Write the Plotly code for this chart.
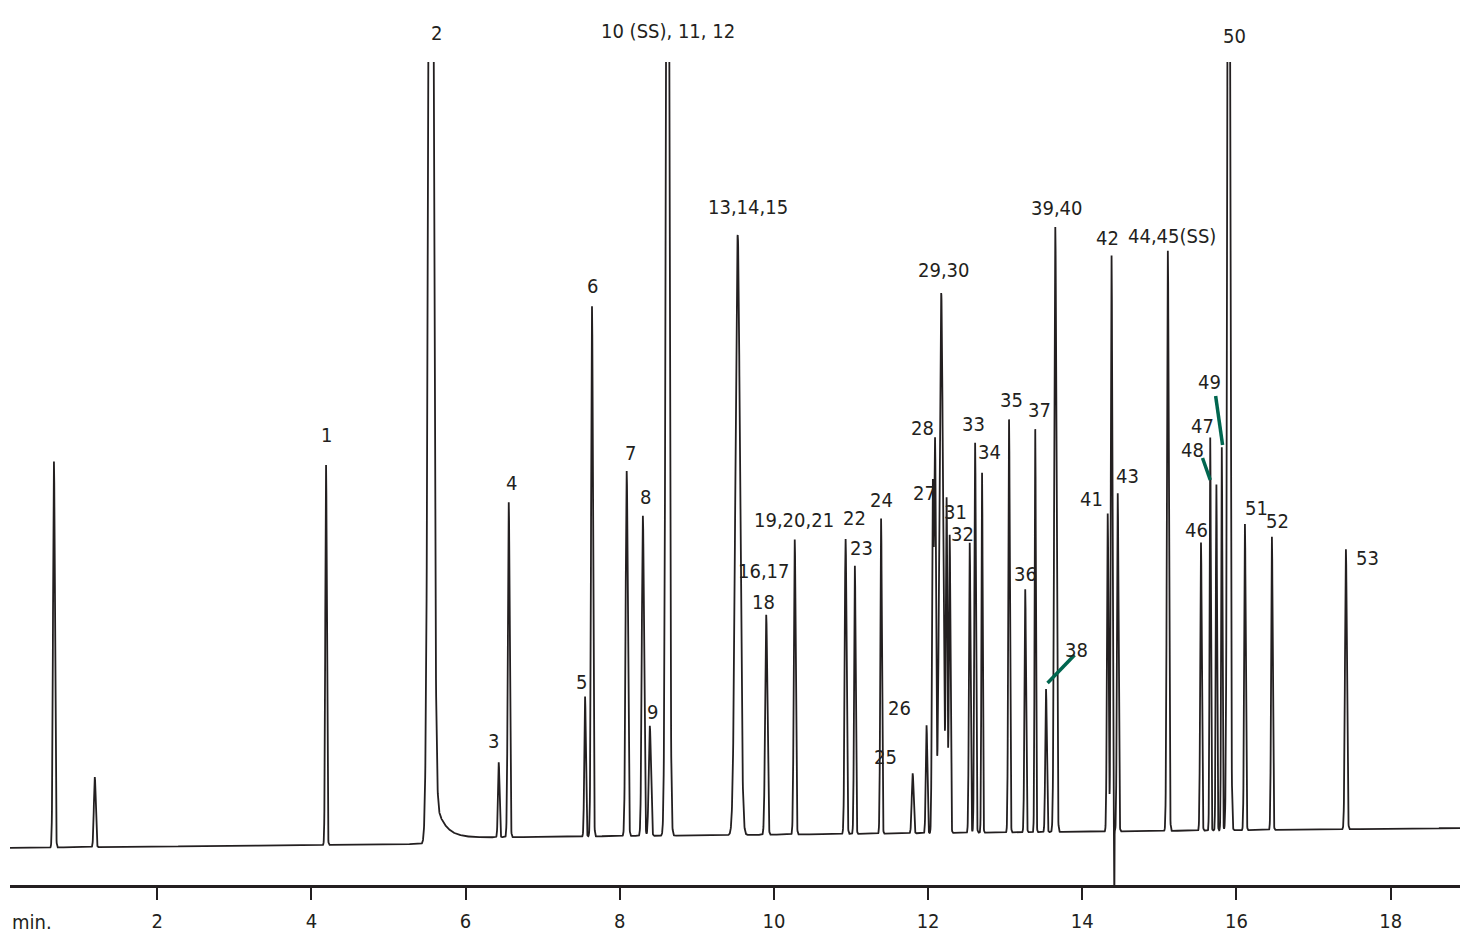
import numpy as np
import plotly.graph_objects as go

# peak retention times (min) and heights (detector units)
peak_times = [0.66, 1.19, 4.19, 5.55, 6.43, 6.56, 7.55, 7.64, 8.09, 8.30, 8.39, 8.62,
              9.53, 9.90, 10.27, 10.93, 11.05, 11.39, 11.80, 11.98, 12.06, 12.09, 12.17,
              12.24, 12.28, 12.54, 12.61, 12.70, 13.05, 13.26, 13.39, 13.53, 13.65,
              14.33, 14.38, 14.415, 14.46, 15.11, 15.54, 15.66, 15.74, 15.81, 15.90,
              16.11, 16.46, 17.42]
peak_heights = [386, 70, 380, 1400, 75, 335, 140, 530, 365, 320, 110, 1400,
                600, 220, 295, 295, 268, 315, 60, 108, 335, 390, 540,
                328, 298, 290, 390, 360, 413, 243, 403, 143, 605,
                318, 576, -80, 338, 580, 288, 393, 346, 383, 1400,
                306, 293, 280]
peak_widths = [0.012, 0.012, 0.010, 0.030, 0.010, 0.012, 0.010, 0.012, 0.014, 0.014, 0.014, 0.020,
               0.030, 0.014, 0.012, 0.012, 0.010, 0.010, 0.012, 0.010, 0.010, 0.012, 0.024,
               0.010, 0.010, 0.010, 0.010, 0.008, 0.010, 0.010, 0.008, 0.010, 0.014,
               0.010, 0.010, 0.002, 0.010, 0.012, 0.010, 0.008, 0.008, 0.008, 0.016,
               0.010, 0.010, 0.012]

labels = ["1", "2", "3", "4", "5", "6", "7", "8", "9", "10 (SS), 11, 12", "13,14,15",
          "16,17", "18", "19,20,21", "22", "23", "24", "25", "26", "27", "28", "29,30",
          "31", "32", "33", "34", "35", "36", "37", "38", "39,40", "41", "42", "43",
          "44,45(SS)", "46", "47", "48", "49", "50", "51", "52", "53"]
label_x = [4.19, 5.62, 6.36, 6.60, 7.51, 7.65, 8.14, 8.33, 8.43, 8.62, 9.67,
           9.87, 9.87, 10.26, 11.04, 11.14, 11.40, 11.45, 11.63, 11.95, 11.93, 12.21,
           12.35, 12.45, 12.59, 12.80, 13.08, 13.26, 13.44, 13.93, 13.67, 14.12, 14.33, 14.59,
           15.17, 15.48, 15.56, 15.43, 15.65, 15.97, 16.26, 16.53, 17.70]
label_y = [413, 814, 107, 365, 166, 562, 395, 351, 136, 816, 641,
           277, 246, 328, 330, 300, 348, 91, 140, 355, 420, 578,
           336, 314, 424, 396, 448, 274, 438, 198, 640, 349, 610, 372,
           612, 318, 422, 398, 466, 811, 340, 327, 290]

t = np.arange(0.0, 19.0, 0.002)
signal = np.zeros_like(t)
for c, h, w in zip(peak_times, peak_heights, peak_widths):
    signal += h * np.exp(-0.5 * ((t - c) / w) ** 2)
# solvent tail after peak 2
signal += np.where(t > 5.55, 60 * np.exp(-(t - 5.55) / 0.12), 0)
signal += np.where(t > 5.5, 6, 0) + (t / 19.0) * 14

fig = go.Figure()
fig.add_trace(go.Scatter(x=t, y=signal, mode="lines",
                         line=dict(color="#231f20", width=1.8), hoverinfo="skip"))

font = dict(family="DejaVu Sans Condensed, Liberation Sans Narrow, sans-serif",
            size=20, color="#231f20")
for txt, x, y in zip(labels, label_x, label_y):
    if y > 786:
        fig.add_annotation(x=x, y=y / 786, yref="paper", text=txt,
                           showarrow=False, font=font, yanchor="middle")
    else:
        fig.add_annotation(x=x, y=y, text=txt, showarrow=False, font=font)

green = dict(color="#00664f", width=3.5)
fig.add_shape(type="line", x0=13.55, y0=165, x1=13.90, y1=193, line=green)
fig.add_shape(type="line", x0=15.56, y0=390, x1=15.66, y1=368, line=green)
fig.add_shape(type="line", x0=15.73, y0=452, x1=15.82, y1=403, line=green)

fig.add_annotation(x=0.0, xref="paper", xanchor="left", y=-0.028, yref="paper",
                   yanchor="top", text="min.", showarrow=False, font=font)

fig.update_layout(
    width=1469, height=940,
    margin=dict(l=2, r=17, t=54, b=63),
    plot_bgcolor="white", paper_bgcolor="white",
    showlegend=False,
)
fig.update_xaxes(range=[0.09, 18.9], tickvals=list(range(2, 19, 2)),
                 showgrid=False, zeroline=False, showline=True,
                 linecolor="#231f20", linewidth=3, ticks="outside", ticklen=12,
                 tickwidth=2, tickcolor="#231f20", tickfont=font, ticklabelstandoff=4)
fig.update_yaxes(range=[-37, 786], visible=False)

fig.write_html("out.html")
